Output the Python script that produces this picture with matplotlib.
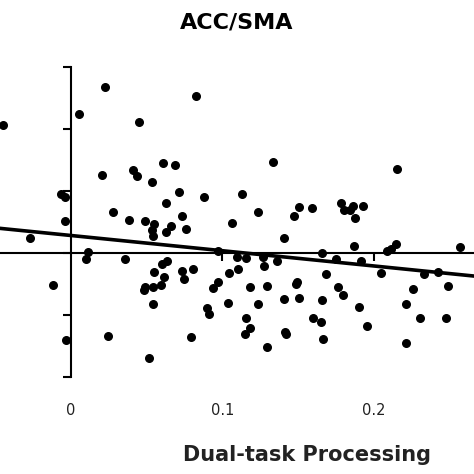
import matplotlib
matplotlib.use("Agg")
import matplotlib.pyplot as plt

# Dual-task processing (x) vs ACC/SMA (y, arbitrary units)
dual_task = [-0.0443, 0.0229, 0.0828, 0.0055, 0.0449, 0.1335, 0.2152, 0.0612, 0.0692, 0.0207,
             0.0410, 0.0441, 0.0535, -0.0066, -0.0035, 0.0716, 0.0877, 0.1132, 0.0628, -0.0035,
             0.0282, 0.0383, 0.0493, 0.0551, 0.0535, 0.0544, 0.0632, 0.0665, 0.0733, 0.0758,
             0.1062, 0.1238, 0.1507, 0.1590, 0.1471, 0.1407, 0.1780, 0.1800, 0.1844, 0.1861,
             0.1927, 0.1874, 0.1870, 0.2086, 0.2112, 0.2143, 0.2570, -0.0267, 0.0115, 0.0099,
             0.0357, 0.0974, 0.1097, 0.1156, 0.1267, 0.1361, 0.1278, 0.1656, 0.1747, 0.1912,
             0.1683, 0.2048, 0.2328, 0.2420, 0.0634, 0.0604, 0.0551, 0.0617, 0.0736, 0.0747,
             0.0808, 0.1048, 0.1104, 0.0974, 0.0938, -0.0117, 0.0493, 0.0485, 0.0542, 0.0597,
             0.1183, 0.1295, 0.1491, 0.1489, 0.1764, 0.1797, 0.2258, 0.2487, 0.0542, 0.0899,
             0.0912, 0.1040, 0.1238, 0.1407, 0.1504, 0.1656, 0.1903, 0.2214, 0.1156, 0.2302,
             0.2474, 0.1597, 0.1652, 0.1181, 0.1150, 0.1954, 0.1414, 0.1421, -0.0031, 0.0247,
             0.0791, 0.1663, 0.2209, 0.1295, 0.0518]
acc_sma = [2.07, 2.67, 2.54, 2.25, 2.12, 1.47, 1.36, 1.45, 1.42, 1.26,
           1.34, 1.24, 1.15, 0.96, 0.90, 0.98, 0.91, 0.96, 0.80, 0.52,
           0.66, 0.54, 0.52, 0.47, 0.38, 0.28, 0.34, 0.43, 0.60, 0.39,
           0.48, 0.67, 0.75, 0.73, 0.60, 0.24, 0.81, 0.70, 0.70, 0.76,
           0.76, 0.56, 0.12, 0.04, 0.06, 0.14, 0.10, 0.24, 0.02, -0.10,
           -0.10, 0.04, -0.06, -0.08, -0.06, -0.13, -0.20, 0.00, -0.09, -0.13,
           -0.33, -0.32, -0.34, -0.31, -0.12, -0.18, -0.31, -0.39, -0.28, -0.41,
           -0.26, -0.32, -0.26, -0.46, -0.57, -0.52, -0.54, -0.59, -0.54, -0.52,
           -0.54, -0.53, -0.47, -0.50, -0.54, -0.67, -0.58, -0.53, -0.82, -0.89,
           -0.98, -0.81, -0.82, -0.74, -0.72, -0.76, -0.87, -0.82, -1.04, -1.04,
           -1.04, -1.05, -1.11, -1.20, -1.31, -1.18, -1.27, -1.31, -1.40, -1.33,
           -1.35, -1.39, -1.45, -1.51, -1.69]

# fitted line as drawn
fit_slope = -2.46
fit_intercept = 0.285
x_ticks = [0, 0.1, 0.2]
x_tick_labels = ["0", "0.1", "0.2"]
y_ticks = [-2, -1, 0, 1, 2, 3]

x_min, x_max = -0.0465, 0.266
y_min, y_max = -3.56, 4.08

fig = plt.figure(figsize=(4.74, 4.74), dpi=100)
ax = fig.add_axes([0, 0, 1, 1])
ax.set_xlim(x_min, x_max)
ax.set_ylim(y_min, y_max)

ax.scatter(dual_task, acc_sma, s=30, color="black", zorder=3)
ax.plot([x_min, x_max], [fit_intercept + fit_slope * x_min, fit_intercept + fit_slope * x_max],
        color="black", lw=2.6, zorder=4)

for s in ["top", "right"]:
    ax.spines[s].set_visible(False)
ax.spines["left"].set_position(("data", 0))
ax.spines["bottom"].set_position(("data", 0))
ax.spines["left"].set_bounds(-2, 3)
for s in ["left", "bottom"]:
    ax.spines[s].set_linewidth(1.5)

ax.set_xticks([0.1, 0.2])
ax.set_yticks(y_ticks)
ax.tick_params(axis="both", direction="out", length=6, width=1.5,
               labelbottom=False, labelleft=False)

for xt, lab in zip(x_ticks, x_tick_labels):
    ax.text(xt, -2.53, lab, ha="center", va="center", fontsize=10.5, color="#222222")

fig.text(0.5, 0.953, "ACC/SMA", ha="center", va="center", fontsize=16, fontweight="bold")
fig.text(0.648, 0.04, "Dual-task Processing", ha="center", va="center", fontsize=15,
         fontweight="bold", color="#222222")

fig.savefig("out.png", dpi=100)
